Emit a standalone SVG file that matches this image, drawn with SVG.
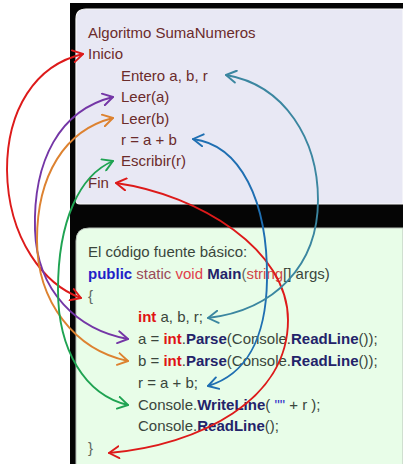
<svg xmlns="http://www.w3.org/2000/svg" width="403" height="464" viewBox="0 0 403 464">
<style>
text{font-family:"Liberation Sans",Arial,sans-serif;font-size:15px;}
.alg{fill:#6b2b2b;}
.cd{fill:#3a463c;}
.kw{fill:#1f1fc8;font-weight:bold;}
.st{fill:#9a4a58;}
.vd{fill:#e0404a;}
.fn{fill:#23236a;font-weight:bold;}
.ty{fill:#d04848;}
.it{fill:#e01414;font-weight:bold;}
.q{fill:#3030c8;}
.gr{fill:#606860;}
.arr{fill:none;stroke-width:1.9;stroke-linecap:round;}
</style>
<defs>
<marker id="hr" viewBox="0 0 12 14" refX="11" refY="7" markerWidth="12" markerHeight="14" markerUnits="userSpaceOnUse" orient="auto-start-reverse"><path d="M1,1 L11,7 L1,13" fill="none" stroke="#dd1a1a" stroke-width="1.9" stroke-linecap="round" stroke-linejoin="round"/></marker>
<marker id="hp" viewBox="0 0 12 14" refX="11" refY="7" markerWidth="12" markerHeight="14" markerUnits="userSpaceOnUse" orient="auto-start-reverse"><path d="M1,1 L11,7 L1,13" fill="none" stroke="#7436a6" stroke-width="1.9" stroke-linecap="round" stroke-linejoin="round"/></marker>
<marker id="ho" viewBox="0 0 12 14" refX="11" refY="7" markerWidth="12" markerHeight="14" markerUnits="userSpaceOnUse" orient="auto-start-reverse"><path d="M1,1 L11,7 L1,13" fill="none" stroke="#dd8230" stroke-width="1.9" stroke-linecap="round" stroke-linejoin="round"/></marker>
<marker id="hg" viewBox="0 0 12 14" refX="11" refY="7" markerWidth="12" markerHeight="14" markerUnits="userSpaceOnUse" orient="auto-start-reverse"><path d="M1,1 L11,7 L1,13" fill="none" stroke="#1fa352" stroke-width="1.9" stroke-linecap="round" stroke-linejoin="round"/></marker>
<marker id="hb" viewBox="0 0 12 14" refX="11" refY="7" markerWidth="12" markerHeight="14" markerUnits="userSpaceOnUse" orient="auto-start-reverse"><path d="M1,1 L11,7 L1,13" fill="none" stroke="#1f6fb2" stroke-width="1.9" stroke-linecap="round" stroke-linejoin="round"/></marker>
<marker id="ht" viewBox="0 0 12 14" refX="11" refY="7" markerWidth="12" markerHeight="14" markerUnits="userSpaceOnUse" orient="auto-start-reverse"><path d="M1,1 L11,7 L1,13" fill="none" stroke="#3b86a0" stroke-width="1.9" stroke-linecap="round" stroke-linejoin="round"/></marker>
</defs>
<rect width="403" height="464" fill="#ffffff"/>
<g id="background">
<rect x="70" y="3" width="333" height="461" fill="#050505"/>
</g>
<g id="panel-algoritmo">
<path d="M76,19 Q76,9 86,9 L403,9 L403,204 L80,204 Q76,204 76,200 Z" fill="#e8e8f4" stroke="#fafafa" stroke-width="1.2"/>
</g>
<g id="panel-codigo">
<path d="M76,241 Q76,228 89,228 L403,228 L403,465 L76,465 Z" fill="#e8fde8" stroke="#b8c0b8" stroke-width="1"/>
</g>
<g id="alg-titulo"><text class="alg" x="88" y="38">Algoritmo SumaNumeros</text></g>
<g id="alg-inicio"><text class="alg" x="88" y="59.4">Inicio</text></g>
<g id="alg-entero"><text class="alg" x="121" y="80.8">Entero a, b, r</text></g>
<g id="alg-leer-a"><text class="alg" x="121" y="102.2">Leer(a)</text></g>
<g id="alg-leer-b"><text class="alg" x="121" y="123.6">Leer(b)</text></g>
<g id="alg-suma"><text class="alg" x="121" y="145">r = a + b</text></g>
<g id="alg-escribir"><text class="alg" x="121" y="166.4">Escribir(r)</text></g>
<g id="alg-fin"><text class="alg" x="88" y="187.8">Fin</text></g>
<g id="cod-titulo"><text class="cd" x="88" y="257">El código fuente básico:</text></g>
<g id="cod-main"><text x="88" y="278.8"><tspan class="kw">public</tspan><tspan class="st"> static </tspan><tspan class="vd">void </tspan><tspan class="fn">Main</tspan><tspan class="gr">(</tspan><tspan class="ty">string</tspan><tspan class="cd">[] args)</tspan></text></g>
<g id="cod-abre"><text class="gr" x="88" y="300.6">{</text></g>
<g id="cod-int"><text x="138" y="322.4"><tspan class="it">int</tspan><tspan class="cd"> a, b, r;</tspan></text></g>
<g id="cod-a"><text x="138" y="344.2"><tspan class="cd">a = </tspan><tspan class="it">int</tspan><tspan class="cd">.</tspan><tspan class="fn">Parse</tspan><tspan class="cd">(Console.</tspan><tspan class="fn">ReadLine</tspan><tspan class="cd">());</tspan></text></g>
<g id="cod-b"><text x="138" y="366"><tspan class="cd">b = </tspan><tspan class="it">int</tspan><tspan class="cd">.</tspan><tspan class="fn">Parse</tspan><tspan class="cd">(Console.</tspan><tspan class="fn">ReadLine</tspan><tspan class="cd">());</tspan></text></g>
<g id="cod-suma"><text class="cd" x="138" y="387.8">r = a + b;</text></g>
<g id="cod-write"><text x="138" y="409.6"><tspan class="cd">Console.</tspan><tspan class="fn">WriteLine</tspan><tspan class="cd">( </tspan><tspan class="q">""</tspan><tspan class="cd"> + r );</tspan></text></g>
<g id="cod-read"><text x="138" y="431.4"><tspan class="cd">Console.</tspan><tspan class="fn">ReadLine</tspan><tspan class="cd">();</tspan></text></g>
<g id="cod-cierra"><text class="gr" x="88" y="453.2">}</text></g>
<g id="connectors">
<path class="arr" stroke="#dd1a1a" marker-start="url(#hr)" marker-end="url(#hr)" d="M81,298 C45,285 8,240 7,170 C7,110 35,65 83,54"/>
<path class="arr" stroke="#7436a6" marker-start="url(#hp)" marker-end="url(#hp)" d="M113,97 C60,110 33,160 35,230 C37,292 78,330 128,339"/>
<path class="arr" stroke="#dd8230" marker-start="url(#ho)" marker-end="url(#ho)" d="M113,118 C65,130 37,175 37,240 C37,302 75,350 128,361"/>
<path class="arr" stroke="#1fa352" marker-start="url(#hg)" marker-end="url(#hg)" d="M113,161 C80,175 58,220 58,290 C58,350 85,395 128,405"/>
<path class="arr" stroke="#dd1a1a" marker-start="url(#hr)" marker-end="url(#hr)" d="M116,183 C200,195 288,250 288,320 C288,400 200,445 109,453"/>
<path class="arr" stroke="#1f6fb2" marker-start="url(#hb)" marker-end="url(#hb)" d="M193,139 C240,145 268,200 267,280 C266,340 245,375 208,386"/>
<path class="arr" stroke="#3b86a0" marker-start="url(#ht)" marker-end="url(#ht)" d="M226,75 C285,85 318,140 318,200 C318,265 275,310 208,318"/>
</g>
</svg>
